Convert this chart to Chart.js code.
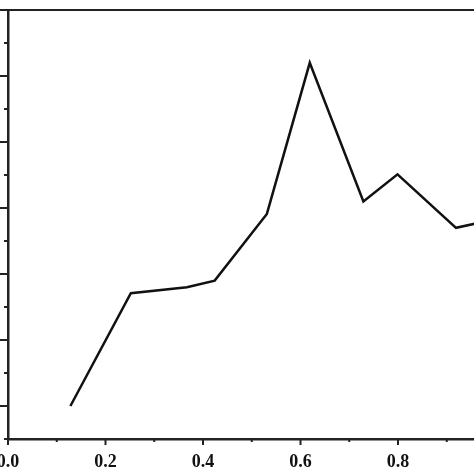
<!DOCTYPE html>
<html>
<head>
<meta charset="utf-8">
<script src="https://cdn.jsdelivr.net/npm/chart.js@4.4.0/dist/chart.umd.min.js"></script>
<style>
  html, body { margin: 0; padding: 0; overflow: hidden; background: #fff; }
  #wrap { position: absolute; left: 0; top: 0; width: 593px; height: 474px; }
</style>
</head>
<body>
<div id="wrap"><canvas id="chart"></canvas></div>
<script>
// values (y labels are cropped away in the reference)
const xValues = [0.128, 0.252, 0.367, 0.424, 0.531, 0.619, 0.729, 0.799, 0.919, 1.0];
const yValues = [1.0, 2.71, 2.8, 2.9, 3.91, 6.2, 4.1, 4.51, 3.7, 3.83];
const xTickStep = 0.2;
const yTickStep = 0.5;

const axisColor = '#222';

// minor / major tick marks and the top frame line
const tickMarks = {
    id: 'tickMarks',
    afterDraw(chart) {
        const ctx = chart.ctx;
        const area = chart.chartArea;
        const xs = chart.scales.x;
        const ys = chart.scales.y;
        ctx.save();
        ctx.strokeStyle = axisColor;
        ctx.lineWidth = 2;

        // top frame
        ctx.beginPath();
        ctx.moveTo(0, area.top);
        ctx.lineTo(area.right, area.top);
        ctx.stroke();

        // x ticks, every 0.1
        for (let i = 0; i <= 12; i++) {
            const px = xs.getPixelForValue(i / 10);
            const len = i % 2 === 0 ? 6 : 3;
            ctx.beginPath();
            ctx.moveTo(px, area.bottom);
            ctx.lineTo(px, area.bottom + len);
            ctx.stroke();
        }

        // y ticks, every half unit
        for (let v = ys.min; v <= ys.max + 1e-9; v += yTickStep) {
            const py = ys.getPixelForValue(v);
            const major = Math.abs(v - Math.round(v)) < 1e-6;
            const len = major ? 9 : 4;
            ctx.beginPath();
            ctx.moveTo(area.left - len, py);
            ctx.lineTo(area.left, py);
            ctx.stroke();
        }
        ctx.restore();
    }
};

new Chart(document.getElementById('chart'), {
    type: 'line',
    data: {
        datasets: [{
            data: xValues.map((x, i) => ({ x: x, y: yValues[i] })),
            borderColor: '#111',
            borderWidth: 2.5,
            pointRadius: 0,
            tension: 0,
            fill: false
        }]
    },
    options: {
        responsive: true,
        maintainAspectRatio: false,
        animation: false,
        layout: { padding: { top: 10, left: 0, right: 0, bottom: 0 } },
        plugins: {
            legend: { display: false },
            tooltip: { enabled: false }
        },
        scales: {
            x: {
                type: 'linear',
                min: 0,
                max: 1.2,
                grid: { drawOnChartArea: false, drawTicks: false },
                border: { color: axisColor, width: 2.5 },
                ticks: {
                    stepSize: xTickStep,
                    padding: 13,
                    maxRotation: 0,
                    color: '#111',
                    font: { family: '"Liberation Serif", "Times New Roman", serif', size: 18, weight: 'bold' },
                    callback: (v) => v.toFixed(1)
                },
                afterFit(scale) {
                    scale.height = 35;
                    scale.paddingLeft = 0;
                    scale.paddingRight = 0;
                }
            },
            y: {
                min: 0.5,
                max: 7,
                grid: { drawOnChartArea: false, drawTicks: false },
                border: { color: axisColor, width: 2.5 },
                ticks: { display: false, stepSize: yTickStep },
                afterFit(scale) {
                    scale.width = 8;
                    scale.paddingTop = 0;
                    scale.paddingBottom = 0;
                }
            }
        }
    },
    plugins: [tickMarks]
});
</script>
</body>
</html>
